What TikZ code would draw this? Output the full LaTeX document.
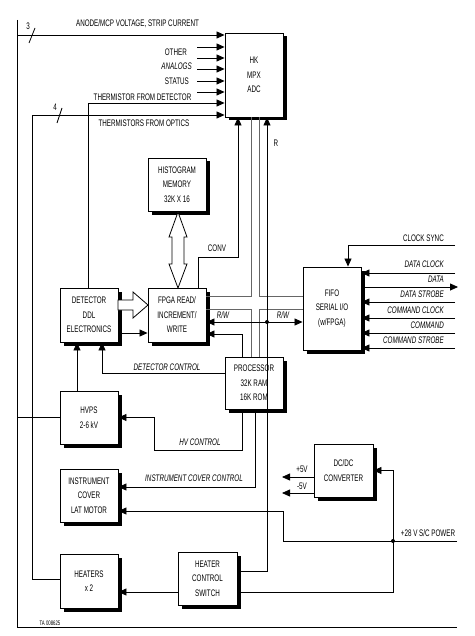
\documentclass[tikz,border=0pt]{standalone}
\usepackage{fontspec}
\setmainfont{Liberation Sans}[FakeStretch=0.66]
\usepackage{tikz}
\usetikzlibrary{arrows.meta,shadows}

\tikzset{
	blk/.style={draw,line width=0.9pt,fill=white,minimum width=58pt,minimum height=53pt,align=center,inner sep=1pt,
		general shadow={shadow xshift=3.5pt,shadow yshift=-3.5pt,fill=black}},
	arr/.style={-{Triangle[length=8pt,width=7pt]},line width=0.8pt},
	wire/.style={line width=0.8pt},
	bus/.style={line width=0.7pt,black!60},
	lbl/.style={inner sep=1pt},
	ilbl/.style={inner sep=1pt,font=\fontsize{9.5}{11}\selectfont\itshape},
}

\begin{document}
\begin{tikzpicture}[x=1pt,y=-1pt,font=\fontsize{9.5}{14.5}\selectfont]
		\useasboundingbox (0,0) rectangle (474,636);
		% blocks
		\node[blk,minimum height=84pt] (adc) at (254,75) {HK\\MPX\\ADC};
		\node[blk] (hist) at (177,184.5) {HISTOGRAM\\MEMORY\\32K X 16};
		\node[blk,minimum height=54pt] (det) at (89,315) {DETECTOR\\DDL\\ELECTRONICS};
		\node[blk,minimum height=54pt] (fpga) at (177,315) {FPGA READ/\\INCREMENT/\\WRITE};
		\node[blk,minimum height=83pt] (fifo) at (332,308.5) {FIFO\\SERIAL I/O\\(w/FPGA)};
		\node[blk,minimum height=52pt] (proc) at (254,383) {PROCESSOR\\32K RAM\\16K ROM};
		\node[blk] (hvps) at (89,417.5) {HVPS\\2-6 kV};
		\node[blk] (cover) at (89,495.5) {INSTRUMENT\\COVER\\LAT MOTOR};
		\node[blk,minimum width=59pt] (dcdc) at (343.5,470.5) {DC/DC\\CONVERTER};
		\node[blk,minimum width=59pt] (sw) at (207.5,578.5) {HEATER\\CONTROL\\SWITCH};
		\node[blk,minimum height=54pt] (heat) at (89,581) {HEATERS\\x 2};

		% frame
		\draw[wire] (17,20) -- (17,627) -- (457,627);
		\node[lbl,font=\fontsize{6.5}{7}\selectfont] (tag) at (50,623) {TA 008625};

		% housekeeping inputs
		\coordinate (t3) at (17,35);
		\draw[arr] (hvps.west) -| (t3) -- (t3 -| adc.west);
		\draw[wire] (29,43) -- (35,28);
		\node[lbl] (n3) at (28,26) {3};
		\node[lbl] (anode) at (137.5,24) {ANODE/MCP VOLTAGE, STRIP CURRENT};
		\foreach \y in {47,58,69,81,92} {
			\coordinate (in\y) at (197,\y);
			\draw[arr] (in\y) -- (in\y -| adc.west);
		}
		\node[lbl,anchor=east] (other) at (188,52) {OTHER};
		\node[ilbl,anchor=east] (analogs) at (193,66) {ANALOGS};
		\node[lbl,anchor=east] (status) at (190,81) {STATUS};
		\coordinate (td) at (88,103);
		\draw[arr] (det.north -| td) -- (td) -- (td -| adc.west);
		\node[lbl] (thdet) at (142.5,97) {THERMISTOR FROM DETECTOR};
		\coordinate (t4) at (32,115);
		\coordinate (h4) at (32,579);
		\draw[arr] (heat.west |- h4) -- (h4) -- (t4) -- (t4 -| adc.west);
		\draw[wire] (57,123) -- (62,108);
		\node[lbl] (n4) at (55,107) {4};
		\node[lbl] (thopt) at (144,123) {THERMISTORS FROM OPTICS};

		% histogram <-> fpga, detector -> fpga
		\draw[wire,fill=white] (178,212) -- (187,237) -- (184,237) -- (184,264) -- (187,264) -- (178,288)
			-- (169,264) -- (172,264) -- (172,237) -- (169,237) -- cycle;
		\draw[wire,fill=white] (118,300) -- (133,300) -- (133,292) -- (148,305) -- (133,318) -- (133,310) -- (118,310) -- cycle;
		\draw[arr] ([yshift=-18pt]det.east) -- ([yshift=-18pt]fpga.west);

		% conv
		\coordinate (cv) at (198,257);
		\coordinate (cvt) at (238,257);
		\draw[arr] (fpga.north -| cv) -- (cv) -- (cvt) -- (cvt |- adc.south);
		\node[lbl] (conv) at (217,248) {CONV};

		% bus cross
		\coordinate (xtl) at (251,296);
		\coordinate (xtr) at (259,296);
		\coordinate (xbl) at (251,309);
		\coordinate (xbr) at (259,309);
		\draw[bus] (adc.south -| xtl) -- (xtl) -- (xtl -| fpga.east);
		\draw[bus] (adc.south -| xtr) -- (xtr) -- (xtr -| fifo.west);
		\draw[bus] (proc.north -| xbl) -- (xbl) -- (xbl -| fpga.east);
		\draw[bus] (proc.north -| xbr) -- (xbr) -- (xbr -| fifo.west);

		% R line and R/W
		\coordinate (rb) at (267,571);
		\draw[arr] (rb -| sw.east) -- (rb) -- (rb |- adc.south);
		\node[lbl] (r) at (276,143) {R};
		\coordinate (rw) at (267,322);
		\fill (rw) circle (2pt);
		\draw[arr] (rw) -- (rw -| fifo.west);
		\draw[arr] (rw) -- (rw -| fpga.east);
		\node[ilbl] (rwl) at (223,315) {R/W};
		\node[ilbl] (rwr) at (283,315) {R/W};
		\coordinate (pf) at (242,334);
		\draw[arr] (proc.north -| pf) -- (pf) -- (pf -| fpga.east);

		% processor controls
		\coordinate (dc) at (102,373);
		\draw[arr] (proc.west |- dc) -- (dc) -- (dc |- det.south);
		\node[ilbl] (detc) at (167,367) {DETECTOR CONTROL};
		\draw[arr] ([xshift=-12pt]hvps.north) -- ([xshift=-12pt]det.south);
		\coordinate (hc1) at (242,450);
		\coordinate (hc2) at (154,450);
		\draw[arr] (proc.south -| hc1) -- (hc1) -- (hc2) |- (hvps.east);
		\node[ilbl] (hvc) at (200,442) {HV CONTROL};
		\coordinate (ic) at (255,487);
		\draw[arr] (proc.south -| ic) -- (ic) -- (ic -| cover.east);
		\node[ilbl] (icc) at (194,478) {INSTRUMENT COVER CONTROL};

		% fifo signals
		\coordinate (cs) at (348,245);
		\coordinate (csr) at (455,245);
		\draw[arr] (csr) -- (cs) -- (cs |- fifo.north);
		\node[lbl,anchor=east] (clks) at (445,238) {CLOCK SYNC};
		\foreach \y in {273,302,318,333,348} {
			\coordinate (s\y) at (455,\y);
			\draw[arr] (s\y) -- (s\y -| fifo.east);
		}
		\coordinate (s287) at (458,287);
		\draw[arr] (s287 -| fifo.east) -- (s287);
		\node[ilbl,anchor=east] (dclk) at (445,264) {DATA CLOCK};
		\node[ilbl,anchor=east] (dat) at (445,279) {DATA};
		\node[ilbl,anchor=east] (dstb) at (445,294) {DATA STROBE};
		\node[ilbl,anchor=east] (cclk) at (445,310) {COMMAND CLOCK};
		\node[ilbl,anchor=east] (cmd) at (445,325) {COMMAND};
		\node[ilbl,anchor=east] (cstb) at (445,340) {COMMAND STROBE};

		% power
		\coordinate (v5) at (282,477);
		\coordinate (vm5) at (282,493);
		\draw[arr] (v5 -| dcdc.west) -- (v5);
		\draw[arr] (vm5 -| dcdc.west) -- (vm5);
		\node[lbl] (p5) at (302,469) {+5V};
		\node[lbl] (m5) at (302,486) {-5V};
		\coordinate (pw) at (393,541);
		\coordinate (pin) at (457,541);
		\coordinate (pm) at (283,541);
		\coordinate (pm2) at (283,511);
		\coordinate (ph) at (393,592);
		\fill (pw) circle (2pt);
		\draw[wire] (pin) -- (pw);
		\draw[arr] (pw) -- (pm) -- (pm2) -- (pm2 -| cover.east);
		\draw[arr] (pw) |- (dcdc.east);
		\draw[wire] (pw) -- (ph) -- (ph -| sw.east);
		\draw[arr] (sw.west |- ph) -- (heat.east |- ph);
		\node[lbl] (pwr) at (428,533) {+28 V S/C POWER};
\end{tikzpicture}
\end{document}
